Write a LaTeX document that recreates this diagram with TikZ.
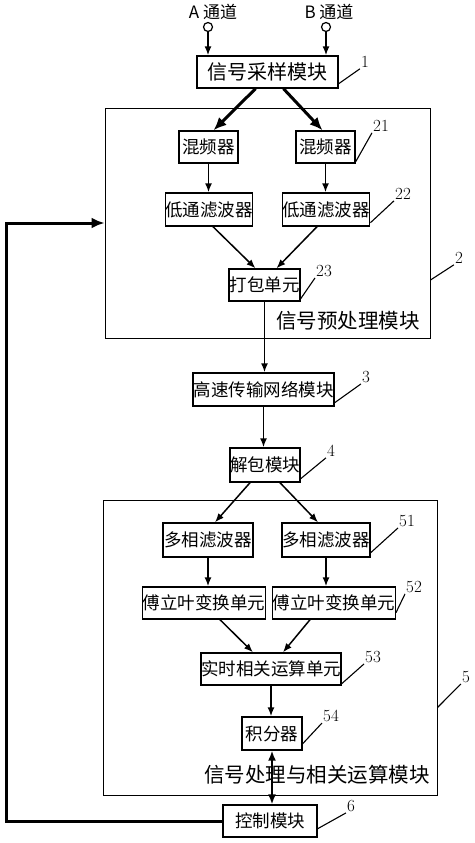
\documentclass[tikz,border=0pt]{standalone}
\usepackage{fontspec}
\newfontfamily\cjk{Noto Sans CJK SC}
\usetikzlibrary{arrows.meta}

\begin{document}
\begin{tikzpicture}[x=1pt,y=-1pt]

% Define box, frame, label and arrow styles
\tikzstyle{blk} =[draw, line width=1.4pt, inner sep=0pt,
                  font=\cjk\fontsize{17.5}{17.5}\selectfont]
\tikzstyle{frame} =[draw, line width=1pt, inner sep=0pt]
\tikzstyle{ttl} =[font=\cjk\fontsize{20.5}{20.5}\selectfont]
\tikzstyle{num} =[inner sep=1pt, font=\fontsize{17}{17}\selectfont]
\tikzstyle{arr} =[line width=1.5pt, -{Latex[length=9pt,width=7pt]}]
\tikzstyle{dbl} =[line width=1.6pt, {Latex[length=10pt,width=8pt]}-{Latex[length=10pt,width=8pt]}]
\tikzstyle{fat} =[line width=3pt, -{Latex[length=13pt,width=11pt]}]
\tikzstyle{lead} =[line width=1.1pt]

\useasboundingbox (0,0) rectangle (474,843);

% inputs
\node[circle, draw, line width=1.2pt, minimum size=9pt, inner sep=0pt] (inA) at (208,27) {};
\node[circle, draw, line width=1.2pt, minimum size=9pt, inner sep=0pt] (inB) at (326,27) {};
\node[font=\cjk\fontsize{17}{17}\selectfont] (txA) at (213,12) {A 通道};
\node[font=\cjk\fontsize{17}{17}\selectfont] (txB) at (329,12) {B 通道};

% frames
\node[frame, minimum width=325pt, minimum height=230pt] (m2) at (267.5,223) {};
\node[frame, minimum width=334pt, minimum height=295pt] (m5) at (270,647.5) {};
\node[ttl] (t2) at (348,321) {信号预处理模块};
\node[ttl] (t5) at (317,775) {信号处理与相关运算模块};

% blocks
\node[blk, font=\cjk\fontsize{20}{20}\selectfont, minimum width=141pt, minimum height=32pt] (samp) at (267.5,72) {信号采样模块};
\node[blk, minimum width=59pt, minimum height=32pt] (mixL) at (208.5,147) {混频器};
\node[blk, minimum width=59pt, minimum height=32pt] (mixR) at (325.5,147) {混频器};
\node[blk, minimum width=84pt, minimum height=33pt] (lpfL) at (209,209.5) {低通滤波器};
\node[blk, minimum width=84pt, minimum height=33pt] (lpfR) at (326,209.5) {低通滤波器};
\node[blk, minimum width=71pt, minimum height=32pt] (pack) at (264.5,285) {打包单元};
\node[blk, minimum width=141pt, minimum height=33pt] (net) at (263.5,389.5) {高速传输网络模块};
\node[blk, minimum width=70pt, minimum height=34pt] (unpk) at (265,465) {解包模块};
\node[blk, minimum width=90pt, minimum height=34pt] (polyL) at (208,540) {多相滤波器};
\node[blk, minimum width=88pt, minimum height=34pt] (polyR) at (326,540) {多相滤波器};
\node[blk, minimum width=122pt, minimum height=32pt] (fftL) at (204,603) {傅立叶变换单元};
\node[blk, minimum width=120pt, minimum height=32pt] (fftR) at (334,603) {傅立叶变换单元};
\node[blk, minimum width=138pt, minimum height=32pt] (corr) at (271,669) {实时相关运算单元};
\node[blk, minimum width=60pt, minimum height=33pt] (intg) at (272,733.5) {积分器};
\node[blk, minimum width=94pt, minimum height=32pt] (ctrl) at (270,821) {控制模块};

% number labels
\node[num] (l1) at (365,62) {1};
\node[num] (l21) at (381,126) {21};
\node[num] (l22) at (403,194) {22};
\node[num] (l23) at (324,271) {23};
\node[num] (l2) at (459,258) {2};
\node[num] (l3) at (366,377) {3};
\node[num] (l4) at (331,451) {4};
\node[num] (l51) at (407,521) {51};
\node[num] (l52) at (414,587) {52};
\node[num] (l53) at (373,657) {53};
\node[num] (l54) at (331,716) {54};
\node[num] (l5) at (466,677) {5};
\node[num] (l6) at (351,806) {6};

\draw[lead] ([yshift=5pt]samp.south east) -- (l1.south west);
\draw[lead] ([yshift=2pt]mixR.south east) -- (l21.south west);
\draw[lead] ([yshift=4pt]lpfR.south east) -- (l22.south west);
\draw[lead] ([yshift=3pt]pack.south east) -- (l23.south west);
\draw[lead] ([yshift=-57pt]m2.east) -- (l2.south west);
\draw[lead] ([yshift=4pt]net.south east) -- (l3.south west);
\draw[lead] ([yshift=4pt]unpk.south east) -- (l4.south west);
\draw[lead] ([yshift=5pt]polyR.south east) -- (l51.south west);
\draw[lead] ([yshift=7pt]fftR.south east) -- (l52.south west);
\draw[lead] ([yshift=2pt]corr.south east) -- (l53.south west);
\draw[lead] ([yshift=7pt]intg.south east) -- (l54.south west);
\draw[lead] ([yshift=-60pt]m5.east) -- (l5.south west);
\draw[lead] ([yshift=9pt]ctrl.south east) -- (l6.south west);

% connectors
\draw[arr] (inA) -- (inA |- samp.north);
\draw[arr] (inB) -- (inB |- samp.north);
\draw[fat] ([xshift=-12pt]samp.south) -- ([xshift=5pt]mixL.north);
\draw[fat] ([xshift=16pt]samp.south) -- ([xshift=-3pt]mixR.north);
\draw[arr] (mixL.south) -- (mixL.south |- lpfL.north);
\draw[arr] (mixR.south) -- (mixR.south |- lpfR.north);
\draw[arr] ([xshift=4pt]lpfL.south) -- ([xshift=-9pt]pack.north);
\draw[arr] ([xshift=-9pt]lpfR.south) -- ([xshift=12pt]pack.north);
\draw[arr] (pack.south) -- (pack.south |- net.north);
\draw[arr] (net.south) -- (net.south |- unpk.north);
\draw[arr] ([xshift=-15pt]unpk.south) -- ([xshift=7pt]polyL.north);
\draw[arr] ([xshift=15pt]unpk.south) -- ([xshift=-8pt]polyR.north);
\draw[arr] (polyL.south) -- (polyL.south |- fftL.north);
\draw[arr] (polyR.south) -- (polyR.south |- fftR.north);
\draw[arr] ([xshift=16pt]fftL.south) -- ([xshift=-18pt]corr.north);
\draw[arr] ([xshift=-24pt]fftR.south) -- ([xshift=12pt]corr.north);
\draw[arr] (corr.south) -- (corr.south |- intg.north);
\draw[dbl] (intg.south) -- (intg.south |- ctrl.north);

% feedback
\coordinate (fb) at (6,223);
\draw[fat] (ctrl.west) -| (fb) -- (m2.west);

\end{tikzpicture}
\end{document}
